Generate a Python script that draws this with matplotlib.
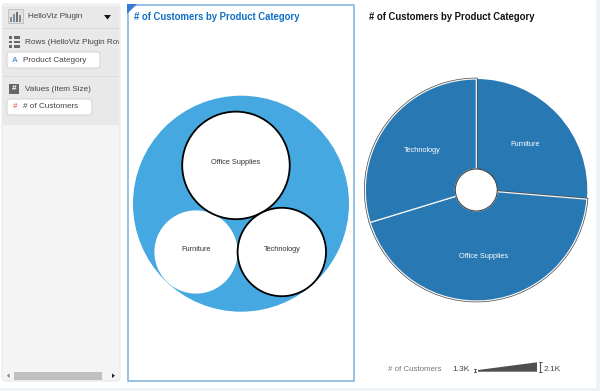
import numpy as np
import matplotlib
matplotlib.use("Agg")
import matplotlib.pyplot as plt
from matplotlib.patches import Rectangle, FancyBboxPatch, Circle, Polygon

categories = ["Furniture", "Office Supplies", "Technology"]
customers = [1275, 2130, 1440]
legend_min_label = "1.3K"
legend_max_label = "2.1K"
title = "# of Customers by Product Category"

plt.rcParams["font.family"] = ["Liberation Sans", "DejaVu Sans"]
W, H = 600, 391
fig = plt.figure(figsize=(W / 100, H / 100), dpi=100, facecolor="white")
ax = fig.add_axes([0, 0, 1, 1])
ax.set_xlim(0, W)
ax.set_ylim(H, 0)
ax.axis("off")

def rbox(x, y, w, h, fc, ec, lw=0.8, r=3, z=2):
    ax.add_patch(FancyBboxPatch((x + r, y + r), w - 2 * r, h - 2 * r,
                                boxstyle=f"round,pad={r},rounding_size={r}",
                                fc=fc, ec=ec, lw=lw, zorder=z))

# ---- page background bands
ax.add_patch(Rectangle((0, 388), W, 3, fc="#eef2f5", ec="none", zorder=0))
ax.add_patch(Rectangle((596, 0), 4, H, fc="#eef2f5", ec="none", zorder=0))

# ---- left shelf panel
rbox(2, 4, 118, 377, "#f4f4f4", "#e6e9ec", r=4, z=1)
ax.add_patch(Rectangle((3, 6), 116, 119, fc="#e9e9e9", ec="none", zorder=1.1))
ax.add_patch(Rectangle((3, 28), 116, 1, fc="#d8d8d8", ec="none", zorder=1.2))
ax.add_patch(Rectangle((3, 76), 116, 1, fc="#dcdcdc", ec="none", zorder=1.2))

# plugin icon
ax.add_patch(Rectangle((8, 9), 15, 14, fc="#e2e2e2", ec="#b5b5b5", lw=0.5, zorder=2))
for bx, bt, col in [(10, 17, "#8a8a8a"), (13, 14, "#6f93ad"), (16, 12, "#6f6f6f"), (19, 15, "#8a8a8a")]:
    ax.add_patch(Rectangle((bx, bt), 2, 22 - bt, fc=col, ec="none", zorder=3))
ax.text(28, 16.5, "HelloViz Plugin", fontsize=5.9, color="#444444", va="center", zorder=4)
ax.add_patch(Polygon([[104, 15], [111, 15], [107.5, 19.5]], fc="#111111", ec="none", zorder=4))

# rows icon
for yy in (36, 40.5, 45):
    ax.add_patch(Rectangle((9, yy), 3, 2.8, fc="#666666", ec="none", zorder=3))
    ax.add_patch(Rectangle((13.5, yy), 6.5, 2.8, fc="#666666", ec="none", zorder=3))
rows_txt = ax.text(25, 42, "Rows (HelloViz Plugin Row", fontsize=5.9, color="#444444", va="center", zorder=4)
rows_txt.set_clip_path(Rectangle((3, 30), 116, 24, transform=ax.transData))
rows_txt.set_clip_on(True)
rbox(7, 52, 93, 16, "white", "#d6d6d6")
ax.text(14.5, 60, "A", fontsize=5.9, color="#5b9bd5", ha="center", va="center", fontweight="bold", zorder=4)
ax.text(23, 60, "Product Category", fontsize=5.9, color="#444444", va="center", zorder=4)

# values icon
ax.add_patch(Rectangle((9, 84), 10, 10, fc="#666666", ec="none", zorder=3))
ax.text(14, 89, "#", fontsize=6, color="white", ha="center", va="center", fontweight="bold", zorder=4)
ax.text(25, 89.5, "Values (Item Size)", fontsize=5.9, color="#444444", va="center", zorder=4)
rbox(7, 99, 85, 16, "white", "#d6d6d6")
ax.text(15, 107, "#", fontsize=5.9, color="#e8736a", ha="center", va="center", fontweight="bold", zorder=4)
ax.text(23, 107, "# of Customers", fontsize=5.9, color="#444444", va="center", zorder=4)

# scrollbar
ax.add_patch(Rectangle((14, 372), 88, 7.5, fc="#c0c0c0", ec="none", zorder=3))
ax.add_patch(Polygon([[9.5, 373.5], [9.5, 378], [7, 375.7]], fc="#777777", ec="none", zorder=3))
ax.add_patch(Polygon([[112, 373.5], [112, 378], [115, 375.7]], fc="#222222", ec="none", zorder=3))

# ---- selected chart panel
ax.add_patch(Rectangle((127.5, 4.5), 226.5, 376, fc="white", ec="#7ab0e0", lw=1.1, zorder=1))
ax.add_patch(Polygon([[127, 4], [137, 4], [127, 14]], fc="#3c78d8", ec="none", zorder=3))
ax.text(134, 16.7, title, fontsize=6.85, fontweight="bold", color="#0f6fc6", va="center", zorder=4)
ax.text(369, 16.7, title, fontsize=6.85, fontweight="bold", color="#111111", va="center", zorder=4)

# ---- packed bubbles: radii from values, mutually tangent
scale = 1.165
radii = scale * np.sqrt(np.array(customers, dtype=float))
rF, rO, rT = radii
dFT, dFO, dTO = rF + rT, rF + rO, rT + rO
a = np.arccos((dFT**2 + dFO**2 - dTO**2) / (2 * dFT * dFO))
pF = np.array([0.0, 0.0])
pT = np.array([dFT, 0.0])
pO = dFO * np.array([np.cos(-a), np.sin(-a)])
anchor = np.array([196.0, 252.0])
ax.add_patch(Circle((241, 203.7), 108, fc="#45a8e0", ec="none", zorder=2))
for name, p, r in zip(categories, [pF, pO, pT], radii):
    centre = anchor + p
    edge = "none" if name == "Furniture" else "black"
    ax.add_patch(Circle(centre, r, fc="white", ec=edge, lw=1.3, zorder=3))
    ax.text(centre[0], centre[1] - 2.5, name, fontsize=5.3, color="#333333", ha="center", va="center", zorder=4)

# ---- donut on its own axes
cx, cy, rad = 476.3, 190, 111
pax = fig.add_axes([(cx - rad - 3) / W, 1 - (cy + rad + 3) / H, (2 * rad + 6) / W, (2 * rad + 6) / H])
lim = (rad + 3) / rad
hole = 21 / rad
blue = "#2778b3"
wedges, _ = pax.pie(customers, startangle=90, counterclock=False, radius=1,
                    colors=[blue] * 3, wedgeprops=dict(width=1 - hole, ec="none"))
pax.set_xlim(-lim, lim)
pax.set_ylim(-lim, lim)
pax.set_aspect("equal")
furniture, office, tech = wedges
furniture.set_zorder(1)
for w in (office, tech):
    w.set_edgecolor("#4a4a4a")
    w.set_linewidth(1.9)
    w.set_zorder(2)
for src in (office, tech):
    top = plt.matplotlib.patches.Wedge(src.center, src.r, src.theta1, src.theta2, width=src.width,
                                       fc=blue, ec="#f4f4f4", lw=0.9, zorder=3)
    pax.add_patch(top)
pax.add_patch(Circle((0, 0), hole, fc="white", ec="#444444", lw=0.8, zorder=4))
angles = np.cumsum([0] + customers) / sum(customers) * 2 * np.pi
for i, name in enumerate(categories):
    mid = (angles[i] + angles[i + 1]) / 2
    pax.text(0.60 * np.sin(mid), 0.60 * np.cos(mid), name, fontsize=5.3, color="white",
             ha="center", va="center", zorder=10)

# ---- size legend
ax.text(441, 369.7, "# of Customers", fontsize=5.7, color="#777777", ha="right", va="center", zorder=4)
ax.text(460.5, 369.7, legend_min_label, fontsize=6, color="#444444", ha="center", va="center", zorder=4)
ax.text(552.5, 369.7, legend_max_label, fontsize=6, color="#444444", ha="center", va="center", zorder=4)
ax.add_patch(Polygon([[478, 370], [537, 362.3], [537, 371.7], [478, 371.7]], fc="#4f4f4f", ec="none", zorder=4))
ax.plot([475, 475], [369, 372], color="#555555", lw=0.8, zorder=4)
ax.plot([474, 476], [369, 369], color="#555555", lw=0.6, zorder=4)
ax.plot([474, 476], [372, 372], color="#555555", lw=0.6, zorder=4)
ax.plot([540, 540], [362, 372], color="#555555", lw=0.8, zorder=4)
ax.plot([538.5, 541.5], [362, 362], color="#555555", lw=0.6, zorder=4)
ax.plot([538.5, 541.5], [372, 372], color="#555555", lw=0.6, zorder=4)

fig.savefig("out.png", dpi=100, facecolor="white")
